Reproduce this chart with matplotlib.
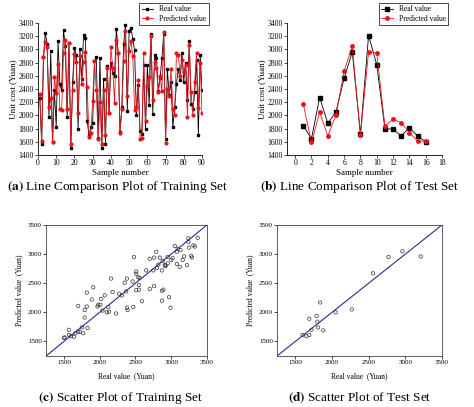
import numpy as np
import matplotlib
matplotlib.use("Agg")
import matplotlib.pyplot as plt

plt.rcParams['font.family'] = ['Liberation Serif', 'DejaVu Serif']
plt.rcParams['mathtext.fontset'] = 'stix'

train_real = [2270, 1570, 2880, 3250, 3080, 1980, 2970, 1600, 2380, 1820, 3120, 2470, 2380, 3290, 3050,
              1970, 3090, 1510, 2510, 3020, 2920, 1790, 3000, 2550, 3220, 3180, 1910, 1700, 1830, 1890,
              2820, 2890, 1660, 2870, 1500, 2550, 1570, 2750, 2040, 2790, 2650, 2590, 3310, 2950, 1750,
              2120, 3080, 3370, 2070, 3280, 3330, 3160, 2990, 2010, 2460, 1770, 1720, 2760, 1790, 2760,
              2160, 3240, 2020, 2910, 2870, 2370, 2560, 2870, 3240, 1640, 2700, 2310, 2510, 1820, 2130,
              2480, 2700, 2540, 2950, 2510, 2800, 2230, 3130, 2180, 2100, 2350, 2840, 1700, 2920, 2390]
train_pred = [2320, 1610, 2880, 3110, 3040, 2130, 2260, 1590, 2580, 2340, 2780, 2090, 2080, 2940, 3140,
              2100, 3090, 1570, 2380, 2930, 2810, 2040, 2900, 2470, 2810, 2960, 2430, 1670, 1730, 2220,
              2820, 2390, 1640, 2200, 1560, 2390, 1700, 2720, 2030, 3040, 2720, 2190, 3150, 2950, 1740,
              2090, 2830, 3280, 2290, 2970, 3130, 2900, 2080, 2130, 2530, 1640, 1660, 2940, 1910, 2450,
              2580, 3210, 2230, 2810, 2720, 2360, 2590, 2370, 3270, 1580, 2400, 2290, 2700, 2100, 2010,
              2950, 2920, 2600, 2840, 2660, 2760, 1980, 3070, 2350, 2000, 2510, 2940, 2110, 2790, 2040]
test_real = [1840, 1650, 2270, 1880, 2050, 2560, 2960, 1720, 3210, 2770, 1800, 1790, 1690, 1810, 1690, 1600]
test_pred = [2170, 1590, 2050, 1690, 2000, 2670, 3050, 1700, 2960, 2950, 1840, 1940, 1890, 1740, 1610, 1610]

W, H = 474, 407
fig = plt.figure(figsize=(W / 100, H / 100), dpi=100)

def ax_px(l, t, r, b):
    return fig.add_axes([l / W, 1 - b / H, (r - l) / W, (b - t) / H])

fs = 5.5

def line_plot(ax, real, pred, xlim, xticks, ms):
    x = np.arange(1, len(real) + 1)
    ax.plot(x, real, color='black', marker='s', ms=ms, lw=0.6, label='Real value')
    ax.plot(x, pred, color='#e8141c', marker='o', ms=ms, lw=0.6, label='Predicted value')
    ax.set_xlim(*xlim)
    ax.set_xticks(xticks)
    ax.set_ylim(1400, 3400)
    ax.set_yticks(range(1400, 3401, 200))
    ax.set_xlabel('Sample number', fontsize=6.5, labelpad=1)
    ax.set_ylabel('Unit cost (Yuan)', fontsize=6.5, labelpad=1)
    ax.tick_params(labelsize=fs, length=2, width=0.5, pad=1)
    for s in ['top', 'right']:
        ax.spines[s].set_visible(False)
    for s in ['left', 'bottom']:
        ax.spines[s].set_linewidth(0.6)
    leg = ax.legend(loc='upper right', bbox_to_anchor=(1.04, 1.15), fontsize=5.5, frameon=True,
                    fancybox=False, edgecolor='black', borderpad=0.3, handlelength=1.5,
                    labelspacing=0.2, framealpha=1, borderaxespad=0)
    leg.get_frame().set_linewidth(0.5)

def scatter_plot(ax, real, pred):
    ax.scatter(real, pred, s=6, facecolors='none', edgecolors='#333333', linewidths=0.5)
    ax.plot([1250, 3500], [1250, 3500], color='#2b2b8c', lw=0.8)
    ax.set_xlim(1250, 3500)
    ax.set_ylim(1250, 3500)
    ax.set_xticks(range(1500, 3501, 500))
    ax.set_yticks(range(1500, 3501, 500))
    ax.set_xlabel('Real value  (Yuan)', fontsize=5.5, labelpad=5)
    ax.set_ylabel('Predicted value  (Yuan)', fontsize=5.5, labelpad=3)
    ax.tick_params(labelsize=5, length=2, width=0.5, pad=1)
    for s in ax.spines.values():
        s.set_linewidth(0.6)
        s.set_color('#444444')

a = ax_px(38, 23, 202, 155)
line_plot(a, train_real, train_pred, (0, 90), range(0, 91, 10), 2)
b = ax_px(287, 23, 442, 155)
line_plot(b, test_real, test_pred, (-1, 18), range(0, 19, 2), 2.5)
c = ax_px(46, 225, 207, 356)
scatter_plot(c, train_real, train_pred)
d = ax_px(277, 225, 442, 356)
scatter_plot(d, test_real, test_pred)

cap = dict(ha='center', fontsize=9.5)
fig.text(118 / W, 1 - 190 / H, r'$\mathbf{(a)}$ Line Comparison Plot of Training Set', **cap)
fig.text(360 / W, 1 - 190 / H, r'$\mathbf{(b)}$ Line Comparison Plot of Test Set', **cap)
fig.text(120 / W, 1 - 401 / H, r'$\mathbf{(c)}$ Scatter Plot of Training Set', **cap)
fig.text(360 / W, 1 - 401 / H, r'$\mathbf{(d)}$ Scatter Plot of Test Set', **cap)

fig.savefig('out.png', dpi=100)
